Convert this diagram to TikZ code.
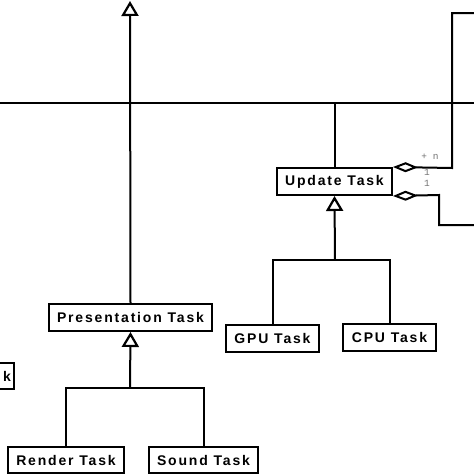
\documentclass[tikz,border=0pt]{standalone}
\usepackage{fontspec}
\usetikzlibrary{arrows.meta}
\newfontfamily\boxfont{Liberation Sans}[LetterSpace=13]
\newfontfamily\multfont{Liberation Mono}
\begin{document}
\begin{tikzpicture}[x=1pt,y=-1pt,
  line width=2pt,
  taskbox/.style={draw, line width=2pt, inner sep=0pt, minimum height=27pt,
    font=\boxfont\bfseries\fontsize{14}{16}\selectfont},
  inh/.style={-{Triangle[open,length=15pt,width=17pt,line width=2.2pt]}},
  agg/.style={-{Diamond[open,length=25pt,width=10pt,line width=2pt]}},
  mult/.style={font=\multfont\fontsize{9.5}{10}\selectfont, text=black!55, inner sep=0pt}]
\useasboundingbox (0,0) rectangle (474,474);
% nodes
\node[taskbox, minimum width=115pt] (update) at (334.5,181.5) {Update Task};
\node[taskbox, minimum width=163pt] (presentation) at (130.5,317.5) {Presentation Task};
\node[taskbox, minimum width=93pt] (gpu) at (272.5,338.5) {GPU Task};
\node[taskbox, minimum width=93pt] (cpu) at (389.5,337.5) {CPU Task};
\node[taskbox, minimum width=116pt, minimum height=26pt] (render) at (66,460) {Render Task};
\node[taskbox, minimum width=109pt, minimum height=26pt] (sound) at (203.5,460) {Sound Task};
\node[taskbox, minimum height=26pt, text width=30pt, align=right, inner xsep=3pt, anchor=east] (left) at (15,376) {k};
% coordinates
\coordinate (top) at (130,1);
\coordinate (hl) at (0,103);
\coordinate (hr) at (474,103);
\coordinate (tr) at (474,13);
\coordinate (b1) at (452,168);
\coordinate (br) at (474,225);
\coordinate (b2) at (439,195);
\coordinate (j1) at (335,260);
\coordinate (j2) at (130,388);
% connectors
\draw[inh] (presentation.north) -- (top);
\draw (hl) -- (hr);
\draw (update.north) -- (update.north |- hl);
\draw[agg] (tr) -| (b1) -- (update.north east);
\draw[agg] (br) -| (b2) -- (update.south east);
\draw[inh] (j1) -- (update.south);
\draw (gpu.north) |- (j1) -| (cpu.north);
\draw[inh] (j2) -- (presentation.south);
\draw (render.north) |- (j2) -| (sound.north);
% multiplicities
\node[mult] (mn) at (430,157) {+ n};
\node[mult] (m1) at (427,172.5) {1};
\node[mult] (m2) at (427,183.5) {1};
\end{tikzpicture}
\end{document}
